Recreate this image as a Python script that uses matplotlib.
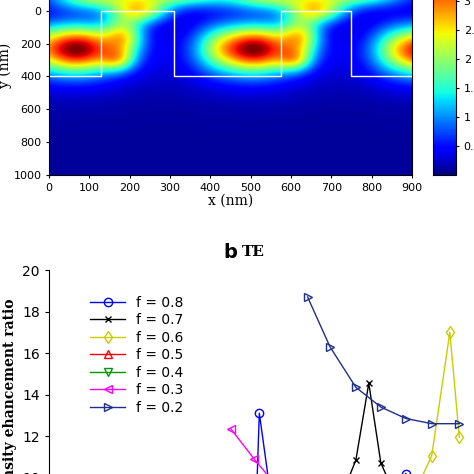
import numpy as np
import matplotlib
matplotlib.use("Agg")
import matplotlib.pyplot as plt

# ---- panel a: field map (hot spots approximated by gaussian blobs, summed) ----
# (x nm, y nm, amplitude, sigma_x, sigma_y)
blobs = [
    (70, 230, 3.0, 68, 95), (510, 230, 3.0, 68, 95), (950, 240, 3.0, 68, 95),
    (60, 260, 0.7, 120, 150), (500, 260, 0.7, 120, 150), (940, 260, 0.7, 120, 150),
    (-30, 220, 0.6, 40, 100), (410, 220, 0.6, 40, 100), (850, 230, 0.6, 40, 100),
    (170, 300, 1.1, 30, 50), (610, 300, 1.1, 30, 50),
    (185, 150, 1.6, 35, 80), (625, 150, 1.6, 35, 80),
    (225, 0, 1.8, 50, 55), (665, 0, 1.8, 50, 55),
    (320, -110, 1.9, 90, 60), (760, -110, 1.9, 90, 60),
    (110, -90, 1.8, 80, 60), (550, -90, 1.8, 80, 60),
]
grating_x = [0, 130, 130, 310, 310, 575, 575, 750, 750, 900]
grating_y = [400, 400, 0, 0, 400, 400, 0, 0, 400, 400]

# ---- panel b: enhancement ratio vs x ----
series = {
    "f = 0.8": ([639, 644, 661, 700, 760, 814], [7.0, 13.1, 8.0, 7.5, 8.0, 10.2], "#0000ff", "o", 6),
    "f = 0.7": ([743, 756, 771, 785, 798], [9.5, 10.85, 14.55, 10.7, 9.5], "#000000", "x", 4),
    "f = 0.6": ([815, 830, 844, 865, 876], [8.0, 9.8, 11.05, 17.0, 11.95], "#cccc00", "d", 6),
    "f = 0.5": ([600, 650, 700], [8.0, 8.5, 8.2], "#ff0000", "^", 6),
    "f = 0.4": ([600, 650, 700], [7.5, 8.0, 7.8], "#009900", "v", 6),
    "f = 0.3": ([611, 638, 660, 680], [12.35, 10.9, 9.8, 9.0], "#ff00ff", "<", 6),
    "f = 0.2": ([700, 726, 756, 785, 814, 844, 876], [18.7, 16.3, 14.35, 13.4, 12.85, 12.6, 12.6], "#1f2f8f", ">", 6),
}

fig = plt.figure(figsize=(4.74, 4.74), dpi=100)

ax1 = fig.add_axes([49/474, 1-175/474, 363/474, 220/474])
xs = np.linspace(0, 900, 451)
ys = np.linspace(-340, 1000, 671)
X, Y = np.meshgrid(xs, ys)
Z = np.full_like(X, 0.1)
for bx, by, a, sx, sy in blobs:
    Z += a*np.exp(-((X-bx)**2/(2*sx**2) + (Y-by)**2/(2*sy**2)))
im = ax1.imshow(Z, extent=[0, 900, 1000, -340], cmap="jet", vmin=0, vmax=3.8,
                aspect="auto", interpolation="bilinear")
ax1.plot(grating_x, grating_y, color="white", lw=1)
ax1.set_xlim(0, 900)
ax1.set_ylim(1000, -340)
ax1.set_xticks(range(0, 901, 100))
ax1.set_yticks(range(0, 1001, 200))
ax1.tick_params(labelsize=8, length=2)
ax1.set_xlabel("x (nm)", family="DejaVu Serif", fontsize=10, labelpad=1)
ax1.set_ylabel("y (nm)", family="DejaVu Serif", fontsize=10, labelpad=1)

cax = fig.add_axes([433/474, 1-175/474, 23/474, 220/474])
cb = fig.colorbar(im, cax=cax, ticks=[0.5, 1, 1.5, 2, 2.5, 3, 3.5])
cb.ax.set_yticklabels(["0.5", "1", "1.5", "2", "2.5", "3", "3.5"])
cb.ax.tick_params(labelsize=8, length=2)

ax2 = fig.add_axes([49/474, 1-540/474, 431/474, 270/474])
for lab, (x, y, c, m, ms) in series.items():
    ax2.plot(x, y, color=c, marker=m, mfc="none", ms=ms, lw=1, label=lab)
ax2.set_xlim(400, 900)
ax2.set_ylim(7, 20)
ax2.set_yticks(range(8, 21, 2))
ax2.tick_params(labelsize=10, length=3)
for s in ["top", "right"]:
    ax2.spines[s].set_visible(False)
ax2.set_ylabel("Intensity ehancement ratio", family="DejaVu Serif",
               fontweight="bold", fontsize=10)
ax2.legend(loc="upper left", bbox_to_anchor=(0.08, 0.93), frameon=False,
           fontsize=10, handlelength=2.5, labelspacing=0.25, borderpad=0)
fig.text(0.5, 1-252/474, "b", fontsize=14, fontweight="bold", ha="right", va="center")
fig.text(0.51, 1-252/474, "TE", fontsize=11, fontweight="bold", family="DejaVu Serif",
         ha="left", va="center")

fig.savefig("out.png", dpi=100)
